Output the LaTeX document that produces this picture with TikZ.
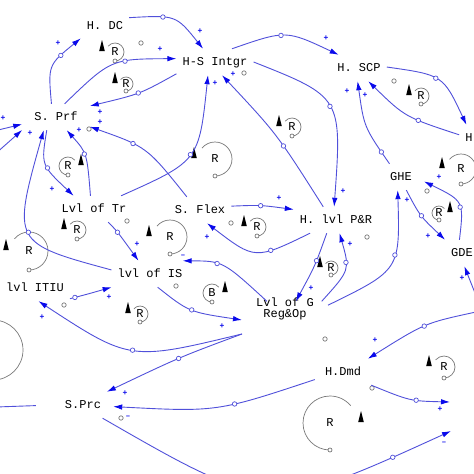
\documentclass[tikz,border=0pt]{standalone}
\usepackage{fontspec}
\setmainfont{Liberation Mono}
\usetikzlibrary{arrows.meta}
\definecolor{lnk}{RGB}{80,80,218}
\definecolor{tip}{RGB}{10,10,235}
\definecolor{lpg}{RGB}{120,120,120}
\begin{document}
\begin{tikzpicture}[x=1pt, y=-1pt,
every node/.style={font=\fontsize{12}{11}\selectfont},
var/.style={inner xsep=6pt, inner ysep=8pt, text height=8pt, text depth=2pt, align=center},
link/.style={draw=lnk, line width=0.9pt, -{Latex[length=9pt,width=5.5pt,color=tip]}},
hdl/.style={circle, draw=lnk, fill=white, inner sep=0pt, minimum size=4.5pt, line width=0.7pt},
lpc/.style={draw=lpg, line width=0.7pt},
lpn/.style={inner sep=0pt},
sgn/.style={inner sep=0pt, text=tip, font=\fontsize{8}{8}\selectfont\bfseries}]
\useasboundingbox (0,0) rectangle (474,474);
\clip (0,0) rectangle (474,474);
\node[var] (hdc) at (105,26) {H. DC};
\node[var] (hsi) at (215,62) {H-S Intgr};
\node[var] (hscp) at (359,68) {H. SCP};
\node[var] (hh) at (469,138) {H};
\node[var, inner xsep=12pt] (sprf) at (56,117) {S. Prf};
\node[var, inner xsep=12pt] (ghe) at (401,177) {GHE};
\node[var] (gde) at (462,253) {GDE};
\node[var] (lvltr) at (94,209) {Lvl of Tr};
\node[var] (sflex) at (200,210) {S. Flex};
\node[var] (hlvl) at (336,220) {H. lvl P\&R};
\node[var] (lvlis) at (150,274) {lvl of IS};
\node[var] (itiu) at (35,288) {lvl ITIU};
\node[var, inner xsep=14pt, text depth=13pt] (lvlg) at (285,320) {Lvl of G\\Reg\&Op};
\node[var, inner xsep=10pt] (hdmd) at (343,372) {H.Dmd};
\node[var, inner xsep=12pt] (sprc) at (83,405) {S.Prc};
\coordinate (inSa) at (-6,131);
\coordinate (inSb) at (-6,155);
\coordinate (outP) at (451,431);
\coordinate (outD) at (450,402);
\coordinate (inD) at (476,312);
\coordinate (inG) at (475,293);
\coordinate (outL) at (-4,407);
\draw[lpc] (-7,350) circle[radius=30pt];
\foreach \cx/\cy/\r/\m/\t in {115/52/9/1/R, 126/84/7/1/R, 292/127/9/1/R, 421/96/8/1/R, 461/169/15/1/R, 215/159/17/1/R, 68/166/9/-1/R, 77/230/9/1/R, 170/237/17/1/R, 29/251/19/1/R, 257/227/9/1/R, 212/293/9/-1/B, 140/314/8/1/R, 331/268/7/1/R, 439/213/7/-1/R, 444/367/11/1/R, 330/423/27/-1/R}
{
\draw[lpc] (\cx,\cy) ++(-90:\r pt) arc[start angle=-90, end angle={-90+230*\m}, radius=\r pt];
\fill ({\cx-\m*(\r+4)-2.8},{\cy-1}) -- ({\cx-\m*(\r+4)},{\cy-12}) -- ({\cx-\m*(\r+4)+2.8},{\cy-1}) -- cycle;
\node[lpn] at (\cx,\cy) {\t};
\draw[lpc, fill=white] (\cx,\cy+\r) circle[radius=2pt];
}
\foreach \p in {(141,43),(244,73),(394,81),(89,129),(127,221),(231,223),(367,237),(427,191),(176,286),(64,305),(325,339),(372,388),(121,418)}
\draw[lpc, fill=white] \p circle[radius=2.2pt];
\draw[link] (hdc.19) .. controls (176,15) .. (hsi.132) node[hdl,pos=.33]{};
\draw[link] (sprf.109) .. controls (48,65) .. (hdc.207) node[hdl,pos=.73]{};
\draw[link] (sprf.57) .. controls (111,59) .. (hsi.175) node[hdl,pos=.63]{};
\draw[link] (hsi.197) .. controls (140,94) .. (sprf.18) node[hdl,pos=.5]{};
\draw[link] (hsi.38) .. controls (286,30) .. (hscp.147) node[hdl,pos=.44]{};
\draw[link] (hsi.0) .. controls (342,97) .. (hlvl.98) node[hdl,pos=.5]{};
\draw[link] (hlvl.134) .. controls (277,134) .. (hsi.298) node[hdl,pos=.4]{};
\draw[link] (lvltr.26) .. controls (199,161) .. (hsi.242) node[hdl,pos=.5]{};
\draw[link] (sflex.135) .. controls (147,147) .. (sprf.344) node[hdl,pos=.65]{};
\draw[link] (ghe.131) .. controls (364,127) .. (hscp.264) node[hdl,pos=.12]{};
\draw[link] (hh.162) .. controls (405,117) .. (hscp.305) node[hdl,pos=.35]{};
\draw[link] (hscp.2) .. controls (443,75) .. (hh.101) node[hdl,pos=.45]{};
\draw[link] (ghe.292) .. controls (420,216) .. (gde.142) node[hdl,pos=.5]{};
\draw[link] (gde.101) .. controls (464,201) .. (ghe.349) node[hdl,pos=.42]{};
\draw[link] (lvlg.19) .. controls (400,270) .. (ghe.256) node[hdl,pos=.6]{};
\draw[link] (hlvl.235) .. controls (315,266) .. (lvlg.60) node[hdl,pos=.39]{};
\draw[link] (lvlg.27) .. controls (350,270) .. (hlvl.285) node[hdl,pos=.63]{};
\draw[link] (sflex.7) .. controls (260,205) .. (hlvl.166) node[hdl,pos=.5]{};
\draw[link] (hlvl.207) .. controls (255,260) .. (sflex.298) node[hdl,pos=.32]{};
\draw[link] (sprf.235) .. controls (41,165) .. (lvltr.147) node[hdl,pos=.57]{};
\draw[link] (lvltr.105) .. controls (87,153) .. (sprf.309) node[hdl,pos=.53]{};
\draw[link] (lvlis.174) .. controls (12,243) .. (sprf.227) node[hdl,pos=.5]{};
\draw[link] (lvltr.317) .. controls (117,231) .. (lvlis.131) node[hdl,pos=.45]{};
\draw[link] (itiu.343) .. controls (88,294) .. (lvlis.199) node[hdl,pos=.1]{};
\draw[link] (lvlis.300) .. controls (189,312) .. (lvlg.180) node[hdl,pos=.5]{};
\draw[link] (lvlg.134) .. controls (223,261) .. (lvlis.22) node[hdl,pos=.6]{};
\draw[link] (lvlg.198) .. controls (130,361) .. (itiu.285) node[hdl,pos=.5]{};
\draw[link] (lvlg.198) .. controls (180,357) .. (sprc.29) node[hdl,pos=.5]{};
\draw[link] (hdmd.195) .. controls (217,412) .. (sprc.357) node[hdl,pos=.38]{};
\draw[link] (sprc.326) .. controls (269,514) .. (outP) node[hdl,pos=.88]{};
\draw[link] (hdmd.335) .. controls (410,401) .. (outD) node[hdl,pos=.6]{};
\draw[link] (inD) .. controls (425,323) .. (hdmd.28) node[hdl,pos=.5]{};
\draw[link] (inG) -- (gde.280);
\draw[link] (inSa) -- (sprf.192);
\draw[link] (inSb) -- (sprf.201);
\draw[draw=lnk, line width=0.9pt, shorten <=17pt] (sprc.180) -- (outL);
\foreach \p in {(200,31),(58,43),(160,49),(326,38),(347,91),(365,95),(100,112),(100,122),(3,118),(30,133),(79,130),(215,83),(233,74),(52,189),(137,244),(109,297),(42,317),(125,393),(222,326),(279,198),(207,237),(343,191),(311,288),(350,244),(407,200),(439,177),(428,236),(462,278),(375,340),(440,409)}
\node[sgn] at \p {+};
\foreach \p in {(183,256),(128,417),(444,443)}
\node[sgn] at \p {–};
\end{tikzpicture}
\end{document}
